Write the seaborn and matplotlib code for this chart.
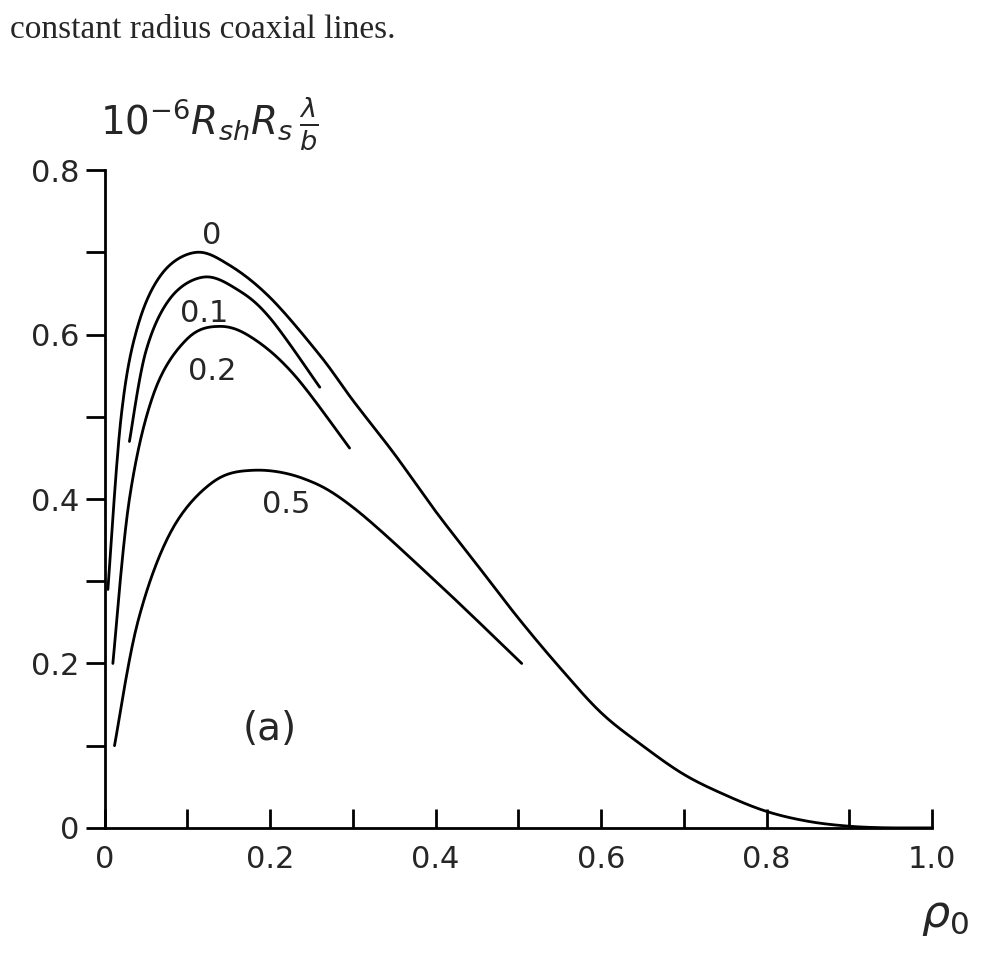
import numpy as np
import pandas as pd
import matplotlib
matplotlib.use("Agg")
import matplotlib.pyplot as plt
import seaborn as sns

# curves, labelled by parameter value
x_c0 = [0.004, 0.02, 0.04, 0.07, 0.11, 0.15, 0.2, 0.26, 0.3, 0.35, 0.4, 0.45, 0.5,
        0.55, 0.6, 0.65, 0.7, 0.75, 0.8, 0.85, 0.9, 0.95, 1.0]
y_c0 = [0.29, 0.50, 0.61, 0.675, 0.70, 0.685, 0.645, 0.575, 0.52, 0.455, 0.385, 0.32, 0.255,
        0.195, 0.14, 0.10, 0.065, 0.04, 0.02, 0.008, 0.002, 0.0, 0.0]
x_c1 = [0.03, 0.05, 0.08, 0.12, 0.16, 0.2, 0.26]
y_c1 = [0.47, 0.58, 0.645, 0.67, 0.655, 0.62, 0.536]
x_c2 = [0.01, 0.03, 0.06, 0.1, 0.14, 0.18, 0.23, 0.296]
y_c2 = [0.20, 0.40, 0.53, 0.595, 0.61, 0.595, 0.55, 0.462]
x_c5 = [0.012, 0.04, 0.08, 0.13, 0.18, 0.24, 0.3, 0.4, 0.504]
y_c5 = [0.10, 0.25, 0.36, 0.42, 0.435, 0.425, 0.39, 0.30, 0.20]

labels = ["0", "0.1", "0.2", "0.5"]
label_pos = [(0.13, 0.72), (0.12, 0.626), (0.13, 0.555), (0.22, 0.393)]


def catmull_rom(xs, ys, n=20):
    # smooth drawing path through the read points
    p = np.column_stack([xs, ys])
    p = np.vstack([p[0], p, p[-1]])
    out = []
    t = np.linspace(0, 1, n, endpoint=False)[:, None]
    for i in range(1, len(p) - 2):
        p0, p1, p2, p3 = p[i - 1], p[i], p[i + 1], p[i + 2]
        out.append(0.5 * (2 * p1 + (-p0 + p2) * t + (2 * p0 - 5 * p1 + 4 * p2 - p3) * t ** 2
                          + (-p0 + 3 * p1 - 3 * p2 + p3) * t ** 3))
    out.append(p[-2][None, :])
    out = np.vstack(out)
    return out[:, 0], np.clip(out[:, 1], 0, None)


sns.set_style("ticks")
plt.rcParams['font.family'] = ['DejaVu Sans']

fig = plt.figure(figsize=(9.96, 9.56), dpi=100)
ax = fig.add_axes([0.105, 0.134, 0.831, 0.688])

for xs, ys in [(x_c0, y_c0), (x_c1, y_c1), (x_c2, y_c2), (x_c5, y_c5)]:
    sx, sy = catmull_rom(xs, ys)
    df = pd.DataFrame({"x": sx, "y": sy})
    sns.lineplot(data=df, x="x", y="y", ax=ax, color="black", lw=2, estimator=None, sort=False)

for lab, (lx, ly) in zip(labels, label_pos):
    ax.text(lx, ly, lab, fontsize=22, ha="center", va="center")

ax.text(0.2, 0.12, "(a)", fontsize=28, ha="center", va="center")

ax.set_xlim(0, 1.0)
ax.set_ylim(0, 0.8)
ax.set_xlabel("")
ax.set_ylabel("")
sns.despine(ax=ax)
for s in ["left", "bottom"]:
    ax.spines[s].set_linewidth(2)
    ax.spines[s].set_color("black")

ax.set_xticks(np.arange(0, 1.01, 0.1))
ax.set_xticklabels(["0", "", "0.2", "", "0.4", "", "0.6", "", "0.8", "", "1.0"], fontsize=22)
ax.tick_params(axis="x", direction="in", length=14, width=2, pad=12, color="black")
ax.set_yticks(np.arange(0, 0.81, 0.1))
ax.set_yticklabels(["0", "", "0.2", "", "0.4", "", "0.6", "", "0.8"], fontsize=22)
ax.tick_params(axis="y", direction="out", length=14, width=2, pad=4, color="black")

fig.text(0.01, 0.985, "constant radius coaxial lines.", fontsize=24, family="Liberation Serif", va="top")
fig.text(0.10, 0.86, r"$10^{-6}R_{sh}R_s\,\frac{\lambda}{b}$", fontsize=28)
fig.text(0.925, 0.03, r"$\rho_0$", fontsize=32)

fig.savefig("out.png", dpi=100)
